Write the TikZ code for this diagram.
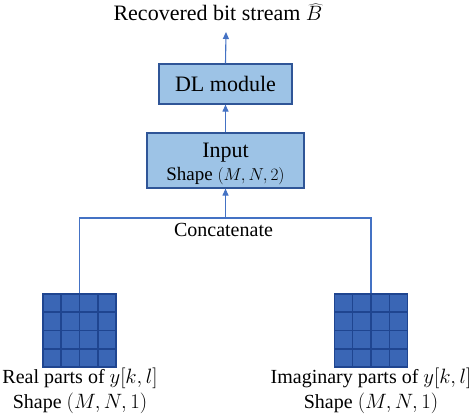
\documentclass[tikz,border=0pt]{standalone}
\usepackage{fontspec}
\setmainfont{LiberationSerif-Regular.ttf}[BoldFont=LiberationSerif-Bold.ttf, ItalicFont=LiberationSerif-Italic.ttf]
\usetikzlibrary{arrows.meta,positioning,calc}
\definecolor{boxfill}{HTML}{9DC3E6}
\definecolor{boxdraw}{HTML}{2F5597}
\definecolor{linecol}{HTML}{4472C4}
\definecolor{gridfill}{HTML}{3A66B5}
\definecolor{griddraw}{HTML}{1F4590}
\tikzset{
  blockbox/.style={draw=boxdraw, fill=boxfill, line width=1.2pt, inner sep=0pt, align=center},
  conn/.style={draw=linecol, line width=1.1pt},
  arr/.style={conn, -{Triangle[length=7pt,width=6pt]}},
  gridbox/.style={draw=griddraw, fill=gridfill, line width=1.2pt, minimum width=73pt, minimum height=73pt, inner sep=0pt},
  big/.style={font=\fontsize{22}{24}\selectfont},
  mid/.style={font=\fontsize{20}{24}\selectfont},
}
\begin{document}
\begin{tikzpicture}[x=1pt,y=-1pt]
\useasboundingbox (0,0) rectangle (474,420);
% title
\node[big, anchor=base, inner sep=0pt] (title) at (218,21) {Recovered bit stream $\widehat{B}$};
\coordinate (tip) at (226,32);
% boxes
\node[blockbox, minimum width=133pt, minimum height=40pt] (dl) at (225.5,84) {};
\node[big, anchor=base, inner sep=0pt] (dltxt) at (225.5,92) {DL module};
\node[blockbox, minimum width=157pt, minimum height=55pt] (inp) at (225.5,160.5) {};
\node[big, anchor=base, inner sep=0pt] (inptxt) at (225.5,157) {Input};
\node[font=\fontsize{19}{22}\selectfont, anchor=base, inner sep=0pt] (inpshape) at (225.5,180) {Shape $(M,N,2)$};
% grids
\node[gridbox] (gl) at (79.5,330.5) {};
\node[gridbox] (gr) at (371,330.5) {};
\foreach \g in {gl,gr}{
  \foreach \f in {0.25,0.5,0.75}{
    \draw[griddraw, line width=1.2pt] ($(\g.north west)!\f!(\g.north east)$) -- ($(\g.south west)!\f!(\g.south east)$);
    \draw[griddraw, line width=1.2pt] ($(\g.north west)!\f!(\g.south west)$) -- ($(\g.north east)!\f!(\g.south east)$);
  }
}
% connectors
\coordinate (jl) at (gl.north |- 0,218);
\coordinate (jr) at (gr.north |- 0,218);
\coordinate (jc) at (inp.south |- 0,218);
\draw[conn] (gl.north) -- (jl) -- (jr) -- (gr.north);
\draw[arr] (jc) -- (inp.south);
\draw[arr] (inp.north) -- (dl.south);
\draw[arr] (dl.north) -- (tip);
% labels
\node[mid, anchor=base, inner sep=0pt] (concat) at (223.5,236) {Concatenate};
\node[mid, anchor=base, inner sep=0pt] (rl1) at (80,383) {Real parts of $y[k,l]$};
\node[mid, anchor=base, inner sep=0pt] (rl2) at (80,408) {Shape $(M,N,1)$};
\node[mid, anchor=base, inner sep=0pt] (im1) at (371,383) {Imaginary parts of $y[k,l]$};
\node[mid, anchor=base, inner sep=0pt] (im2) at (371,408) {Shape $(M,N,1)$};
\end{tikzpicture}
\end{document}
